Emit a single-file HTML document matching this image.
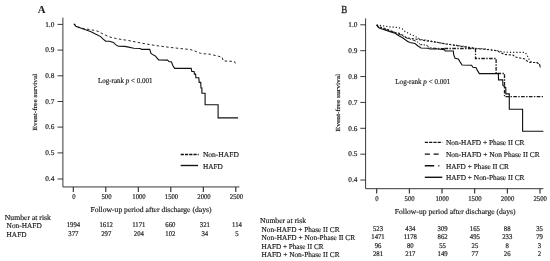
<!DOCTYPE html>
<html><head><meta charset="utf-8"><title>Kaplan-Meier event-free survival</title>
<style>html,body{margin:0;padding:0;background:#fff}svg{display:block}</style>
</head><body>
<svg width="550" height="261" viewBox="0 0 550 261">
<rect width="550" height="261" fill="#fff"/>
<g font-family='"Liberation Serif", "DejaVu Serif", serif' fill="#1c1c1c" stroke="#1c1c1c" stroke-width="0.17" font-size="7" text-rendering="geometricPrecision">
<g stroke="#1e1e1e" stroke-width="0.88" fill="none">
<path d="M62.9,17.6 V186.95 H239.4"/>
<path d="M57.5,24.4 H62.9"/>
<path d="M57.5,50.1 H62.9"/>
<path d="M57.5,75.8 H62.9"/>
<path d="M57.5,101.5 H62.9"/>
<path d="M57.5,127.1 H62.9"/>
<path d="M57.5,152.9 H62.9"/>
<path d="M57.5,179.0 H62.9"/>
<path d="M73.3,186.95 V191.95" stroke-width="1.05"/>
<path d="M105.8,186.95 V191.95" stroke-width="1.05"/>
<path d="M138.3,186.95 V191.95" stroke-width="1.05"/>
<path d="M170.8,186.95 V191.95" stroke-width="1.05"/>
<path d="M203.3,186.95 V191.95" stroke-width="1.05"/>
<path d="M235.8,186.95 V191.95" stroke-width="1.05"/>
</g>
<text transform="translate(54.3,26.7) scale(1,1)" font-size="7.3" text-anchor="end" stroke-width="0.2">1.0</text>
<text transform="translate(54.3,52.4) scale(1,1)" font-size="7.3" text-anchor="end" stroke-width="0.2">0.9</text>
<text transform="translate(54.3,78.1) scale(1,1)" font-size="7.3" text-anchor="end" stroke-width="0.2">0.8</text>
<text transform="translate(54.3,103.8) scale(1,1)" font-size="7.3" text-anchor="end" stroke-width="0.2">0.7</text>
<text transform="translate(54.3,129.4) scale(1,1)" font-size="7.3" text-anchor="end" stroke-width="0.2">0.6</text>
<text transform="translate(54.3,155.2) scale(1,1)" font-size="7.3" text-anchor="end" stroke-width="0.2">0.5</text>
<text transform="translate(54.3,181.3) scale(1,1)" font-size="7.3" text-anchor="end" stroke-width="0.2">0.4</text>
<text transform="translate(74.0,198.6) scale(0.92,1)" font-size="7.3" text-anchor="middle" stroke-width="0.2">0</text>
<text transform="translate(106.5,198.6) scale(0.92,1)" font-size="7.3" text-anchor="middle" stroke-width="0.2">500</text>
<text transform="translate(139.0,198.6) scale(0.92,1)" font-size="7.3" text-anchor="middle" stroke-width="0.2">1000</text>
<text transform="translate(171.5,198.6) scale(0.92,1)" font-size="7.3" text-anchor="middle" stroke-width="0.2">1500</text>
<text transform="translate(204.0,198.6) scale(0.92,1)" font-size="7.3" text-anchor="middle" stroke-width="0.2">2000</text>
<text transform="translate(236.5,198.6) scale(0.92,1)" font-size="7.3" text-anchor="middle" stroke-width="0.2">2500</text>
<text x="37.8" y="12.7" font-size="10.6" textLength="7.8" lengthAdjust="spacingAndGlyphs" font-weight="bold" stroke="none">A</text>
<text transform="translate(36.8,102.1) rotate(-90)" text-anchor="middle" font-size="6.2" textLength="56.6" lengthAdjust="spacingAndGlyphs">Event-free survival</text>
<text x="90.4" y="211.5" font-size="7.5" textLength="121.1" lengthAdjust="spacingAndGlyphs">Follow-up period after discharge (days)</text>
<text x="97.9" y="83.4" font-size="7.5" textLength="54.7" lengthAdjust="spacingAndGlyphs">Log-rank <tspan font-style="italic">p</tspan> &lt; 0.001</text>
<g stroke="#111" fill="none" stroke-width="1.35"><path d="M180.7,154.5 H198.7" stroke-dasharray="3.2,1.05"/><path d="M180.7,165.5 H198"/></g>
<text x="202.9" y="157.1" font-size="7.5" textLength="36" lengthAdjust="spacingAndGlyphs">Non-HAFD</text>
<text x="202.9" y="168.9" font-size="7.5" textLength="19.9" lengthAdjust="spacingAndGlyphs">HAFD</text>
<text x="4.8" y="220.0" font-size="7.5" textLength="46.1" lengthAdjust="spacingAndGlyphs">Number at risk</text>
<text x="6.6" y="227.8" font-size="7.5" textLength="35.1" lengthAdjust="spacingAndGlyphs">Non-HAFD</text>
<text x="6.6" y="236.5" font-size="7.5" textLength="19.9" lengthAdjust="spacingAndGlyphs">HAFD</text>
<text transform="translate(73.4,227.4) scale(0.92,1)" font-size="7.3" text-anchor="middle" stroke-width="0.2">1994</text>
<text transform="translate(73.4,236.4) scale(0.92,1)" font-size="7.3" text-anchor="middle" stroke-width="0.2">377</text>
<text transform="translate(106.2,227.4) scale(0.92,1)" font-size="7.3" text-anchor="middle" stroke-width="0.2">1612</text>
<text transform="translate(106.2,236.4) scale(0.92,1)" font-size="7.3" text-anchor="middle" stroke-width="0.2">297</text>
<text transform="translate(138.8,227.4) scale(0.92,1)" font-size="7.3" text-anchor="middle" stroke-width="0.2">1171</text>
<text transform="translate(138.8,236.4) scale(0.92,1)" font-size="7.3" text-anchor="middle" stroke-width="0.2">204</text>
<text transform="translate(170.4,227.4) scale(0.92,1)" font-size="7.3" text-anchor="middle" stroke-width="0.2">660</text>
<text transform="translate(170.4,236.4) scale(0.92,1)" font-size="7.3" text-anchor="middle" stroke-width="0.2">102</text>
<text transform="translate(204.8,227.4) scale(0.92,1)" font-size="7.3" text-anchor="middle" stroke-width="0.2">321</text>
<text transform="translate(204.8,236.4) scale(0.92,1)" font-size="7.3" text-anchor="middle" stroke-width="0.2">34</text>
<text transform="translate(237.0,227.4) scale(0.92,1)" font-size="7.3" text-anchor="middle" stroke-width="0.2">114</text>
<text transform="translate(237.0,236.4) scale(0.92,1)" font-size="7.3" text-anchor="middle" stroke-width="0.2">5</text>
<path d="M73.90,23.90 L77.70,26.80 L84.10,28.75 L90.50,29.60 L98.10,31.30 L103.20,34.10 L109.50,36.90 L115.90,38.50 L122.30,39.60 L128.60,40.50 L142.70,43.40 L155.50,45.50 L168.20,47.20 L180.90,48.60 L190.20,49.50 L194.00,50.70 L200.40,53.30 L205.50,53.90 L210.50,54.30 L218.20,56.20 L222.00,57.10 L223.30,60.90 L234.70,61.50 L235.60,65.00" stroke="#1c1c1c" stroke-width="0.95" fill="none" stroke-dasharray="2.5,2.3"/>
<path d="M73.90,23.90 L75.80,26.20 L77.70,27.10 L84.10,29.25 L90.50,31.50 L95.50,34.10 L100.60,36.60 L103.20,39.20 L105.70,41.30 L109.50,41.30 L113.40,42.40 L115.90,44.90 L118.50,46.20 L124.80,46.40 L128.60,47.10 L133.80,48.20 L140.20,48.45 L141.50,49.35 L149.70,49.35 L151.00,53.50 L153.50,55.10 L155.50,56.10 L158.60,59.90 L167.60,60.10 L168.90,61.60 L171.50,62.00 L172.70,65.20 L174.60,68.40 L191.20,68.40 L191.80,71.50 L194.10,71.50 L194.40,74.10 L195.60,74.10 L195.90,77.70 L198.80,77.70 L199.20,82.40 L200.70,82.40 L201.00,88.00 L201.90,88.00 L201.90,93.30 L205.10,93.30 L205.10,104.80 L218.10,104.80 L218.10,117.90 L238.10,117.90" stroke="#111" stroke-width="1.12" fill="none" stroke-linejoin="miter"/>
<g stroke="#1e1e1e" stroke-width="0.88" fill="none">
<path d="M365.6,18.4 V188.7 H543.4"/>
<path d="M360.3,24.8 H365.6"/>
<path d="M360.3,50.675 H365.6"/>
<path d="M360.3,76.55 H365.6"/>
<path d="M360.3,102.425 H365.6"/>
<path d="M360.3,128.3 H365.6"/>
<path d="M360.3,154.175 H365.6"/>
<path d="M360.3,180.05 H365.6"/>
<path d="M376.7,188.7 V193.5" stroke-width="1.05"/>
<path d="M409.36,188.7 V193.5" stroke-width="1.05"/>
<path d="M442.02,188.7 V193.5" stroke-width="1.05"/>
<path d="M474.67999999999995,188.7 V193.5" stroke-width="1.05"/>
<path d="M507.34,188.7 V193.5" stroke-width="1.05"/>
<path d="M540.0,188.7 V193.5" stroke-width="1.05"/>
</g>
<text transform="translate(357.4,27.1) scale(1,1)" font-size="7.3" text-anchor="end" stroke-width="0.2">1.0</text>
<text transform="translate(357.4,52.97) scale(1,1)" font-size="7.3" text-anchor="end" stroke-width="0.2">0.9</text>
<text transform="translate(357.4,78.85) scale(1,1)" font-size="7.3" text-anchor="end" stroke-width="0.2">0.8</text>
<text transform="translate(357.4,104.72) scale(1,1)" font-size="7.3" text-anchor="end" stroke-width="0.2">0.7</text>
<text transform="translate(357.4,130.6) scale(1,1)" font-size="7.3" text-anchor="end" stroke-width="0.2">0.6</text>
<text transform="translate(357.4,156.48) scale(1,1)" font-size="7.3" text-anchor="end" stroke-width="0.2">0.5</text>
<text transform="translate(357.4,182.35) scale(1,1)" font-size="7.3" text-anchor="end" stroke-width="0.2">0.4</text>
<text transform="translate(376.9,200.9) scale(0.92,1)" font-size="7.3" text-anchor="middle" stroke-width="0.2">0</text>
<text transform="translate(409.56,200.9) scale(0.92,1)" font-size="7.3" text-anchor="middle" stroke-width="0.2">500</text>
<text transform="translate(442.22,200.9) scale(0.92,1)" font-size="7.3" text-anchor="middle" stroke-width="0.2">1000</text>
<text transform="translate(474.88,200.9) scale(0.92,1)" font-size="7.3" text-anchor="middle" stroke-width="0.2">1500</text>
<text transform="translate(507.54,200.9) scale(0.92,1)" font-size="7.3" text-anchor="middle" stroke-width="0.2">2000</text>
<text transform="translate(540.2,200.9) scale(0.92,1)" font-size="7.3" text-anchor="middle" stroke-width="0.2">2500</text>
<text x="341.3" y="13.3" font-size="10.8" textLength="6.0" lengthAdjust="spacingAndGlyphs" stroke-width="0.3">B</text>
<text transform="translate(339.7,102.6) rotate(-90)" text-anchor="middle" font-size="6.2" textLength="57.6" lengthAdjust="spacingAndGlyphs">Event-free survival</text>
<text x="394.8" y="214" font-size="7.5" textLength="120.7" lengthAdjust="spacingAndGlyphs">Follow-up period after discharge (days)</text>
<text x="395.3" y="84" font-size="7.5" textLength="55" lengthAdjust="spacingAndGlyphs">Log-rank <tspan font-style="italic">p</tspan> &lt; 0.001</text>
<g stroke="#111" fill="none" stroke-width="1.4">
<path d="M424.8,142.4 H442.3" stroke-dasharray="3.2,1.1"/>
<path d="M424.8,154.1 H442.3" stroke-dasharray="5.1,3.7,5.1,20"/>
<path d="M424.8,165.7 H442.3" stroke-dasharray="9.4,4.1,1,20"/>
<path d="M424.8,177.3 H442.3"/>
</g>
<text x="446" y="144.8" font-size="7.5" textLength="78.5" lengthAdjust="spacingAndGlyphs">Non-HAFD + Phase II CR</text>
<text x="446" y="156.5" font-size="7.5" textLength="93.6" lengthAdjust="spacingAndGlyphs">Non-HAFD + Non Phase II CR</text>
<text x="446" y="168.6" font-size="7.5" textLength="63" lengthAdjust="spacingAndGlyphs">HAFD + Phase II CR</text>
<text x="446" y="180.2" font-size="7.5" textLength="78.5" lengthAdjust="spacingAndGlyphs">HAFD + Non-Phase II CR</text>
<text x="260" y="222.5" font-size="7.5" textLength="46.1" lengthAdjust="spacingAndGlyphs">Number at risk</text>
<text x="261.5" y="231.6" font-size="7.5" textLength="78" lengthAdjust="spacingAndGlyphs">Non-HAFD + Phase II CR</text>
<text transform="translate(378.0,231.0) scale(0.92,1)" font-size="7.3" text-anchor="middle" stroke-width="0.2">523</text>
<text transform="translate(410.3,231.0) scale(0.92,1)" font-size="7.3" text-anchor="middle" stroke-width="0.2">434</text>
<text transform="translate(442.6,231.0) scale(0.92,1)" font-size="7.3" text-anchor="middle" stroke-width="0.2">309</text>
<text transform="translate(474.9,231.0) scale(0.92,1)" font-size="7.3" text-anchor="middle" stroke-width="0.2">165</text>
<text transform="translate(507.2,231.0) scale(0.92,1)" font-size="7.3" text-anchor="middle" stroke-width="0.2">88</text>
<text transform="translate(539.5,231.0) scale(0.92,1)" font-size="7.3" text-anchor="middle" stroke-width="0.2">35</text>
<text x="261.5" y="240.07" font-size="7.5" textLength="93.7" lengthAdjust="spacingAndGlyphs">Non-HAFD + Non-Phase II CR</text>
<text transform="translate(378.0,239.47) scale(0.92,1)" font-size="7.3" text-anchor="middle" stroke-width="0.2">1471</text>
<text transform="translate(410.3,239.47) scale(0.92,1)" font-size="7.3" text-anchor="middle" stroke-width="0.2">1178</text>
<text transform="translate(442.6,239.47) scale(0.92,1)" font-size="7.3" text-anchor="middle" stroke-width="0.2">862</text>
<text transform="translate(474.9,239.47) scale(0.92,1)" font-size="7.3" text-anchor="middle" stroke-width="0.2">495</text>
<text transform="translate(507.2,239.47) scale(0.92,1)" font-size="7.3" text-anchor="middle" stroke-width="0.2">233</text>
<text transform="translate(539.5,239.47) scale(0.92,1)" font-size="7.3" text-anchor="middle" stroke-width="0.2">79</text>
<text x="261.5" y="248.54" font-size="7.5" textLength="62" lengthAdjust="spacingAndGlyphs">HAFD + Phase II CR</text>
<text transform="translate(378.0,247.94) scale(0.92,1)" font-size="7.3" text-anchor="middle" stroke-width="0.2">96</text>
<text transform="translate(410.3,247.94) scale(0.92,1)" font-size="7.3" text-anchor="middle" stroke-width="0.2">80</text>
<text transform="translate(442.6,247.94) scale(0.92,1)" font-size="7.3" text-anchor="middle" stroke-width="0.2">55</text>
<text transform="translate(474.9,247.94) scale(0.92,1)" font-size="7.3" text-anchor="middle" stroke-width="0.2">25</text>
<text transform="translate(507.2,247.94) scale(0.92,1)" font-size="7.3" text-anchor="middle" stroke-width="0.2">8</text>
<text transform="translate(539.5,247.94) scale(0.92,1)" font-size="7.3" text-anchor="middle" stroke-width="0.2">3</text>
<text x="261.5" y="257.01" font-size="7.5" textLength="78" lengthAdjust="spacingAndGlyphs">HAFD + Non-Phase II CR</text>
<text transform="translate(378.0,256.41) scale(0.92,1)" font-size="7.3" text-anchor="middle" stroke-width="0.2">281</text>
<text transform="translate(410.3,256.41) scale(0.92,1)" font-size="7.3" text-anchor="middle" stroke-width="0.2">217</text>
<text transform="translate(442.6,256.41) scale(0.92,1)" font-size="7.3" text-anchor="middle" stroke-width="0.2">149</text>
<text transform="translate(474.9,256.41) scale(0.92,1)" font-size="7.3" text-anchor="middle" stroke-width="0.2">77</text>
<text transform="translate(507.2,256.41) scale(0.92,1)" font-size="7.3" text-anchor="middle" stroke-width="0.2">26</text>
<text transform="translate(539.5,256.41) scale(0.92,1)" font-size="7.3" text-anchor="middle" stroke-width="0.2">2</text>
<path d="M376.70,24.90 L382.00,25.70 L390.00,26.90 L398.00,27.50 L402.00,28.70 L405.00,31.50 L410.00,34.00 L415.00,36.40 L420.00,39.30 L426.80,40.20 L433.20,41.50 L439.50,42.80 L445.90,43.80 L452.30,44.70 L458.60,45.60 L465.00,46.60 L475.60,48.30 L484.50,48.90 L490.90,49.80 L497.80,50.80 L503.00,52.00 L509.00,52.30 L524.50,52.30 L527.00,54.50 L528.00,57.50 L530.00,61.00 L533.00,62.50 L537.00,62.60 L539.60,64.50 L540.30,67.40" stroke="#1a1a1a" stroke-width="1.15" fill="none" stroke-dasharray="1.2,2.0"/>
<path d="M376.70,25.00 L379.00,26.80 L385.00,28.50 L395.00,32.30 L400.00,33.50 L407.00,38.00 L414.00,38.70 L420.00,39.80 L426.80,40.90 L433.20,41.70 L445.90,44.00 L458.60,45.90 L465.00,46.90 L475.60,48.60 L484.50,49.20 L490.90,50.00 L497.80,51.00 L500.40,52.70 L505.00,54.50 L513.00,55.00 L515.00,57.00 L520.00,58.00 L525.00,59.00 L527.00,61.00 L530.00,62.50 L537.00,62.60 L539.60,64.50 L540.30,67.40" stroke="#1a1a1a" stroke-width="1.1" fill="none" stroke-dasharray="2.2,1.6"/>
<path d="M376.70,25.00 L378.60,27.20 L381.00,28.20 L385.00,29.20 L395.00,32.60 L401.40,35.20 L407.70,38.40 L414.10,40.30 L417.90,42.20 L420.50,44.70 L426.80,45.10 L429.00,47.60 L435.00,48.30 L444.50,48.50" stroke="#1a1a1a" stroke-width="1.0" fill="none" stroke-dasharray="3.6,1.4,1.4,1.4"/>
<path d="M444.50,48.50 L475.50,48.50 L475.50,58.50 L496.10,58.50 L496.10,73.50 L504.50,73.50 L504.50,96.70 L543.00,96.70" stroke="#1a1a1a" stroke-width="1.3" fill="none" stroke-dasharray="3.6,1.4,1.4,1.4"/>
<path d="M376.70,25.00 L378.40,27.60 L380.50,28.60 L385.00,30.00 L390.00,31.60 L395.00,33.30 L398.80,35.80 L402.60,37.70 L407.70,41.50 L410.00,42.50 L415.00,43.50 L418.00,46.00 L421.00,48.00 L428.00,48.20 L430.00,49.00 L435.00,48.70 L440.00,49.20 L444.50,49.60 L445.20,51.00 L453.30,51.00 L453.80,55.10 L455.10,58.30 L458.30,58.90 L460.20,62.10 L462.10,65.00 L471.60,65.30 L472.90,67.20 L476.10,67.80 L477.40,70.40 L479.30,73.60 L498.40,73.60 L498.50,79.90 L502.70,79.90 L502.90,85.50 L505.80,87.50 L505.80,93.90 L509.30,93.90 L509.30,109.30 L522.60,109.30 L522.60,131.30 L543.40,131.30" stroke="#111" stroke-width="1.12" fill="none"/>
</g></svg>
</body></html>
